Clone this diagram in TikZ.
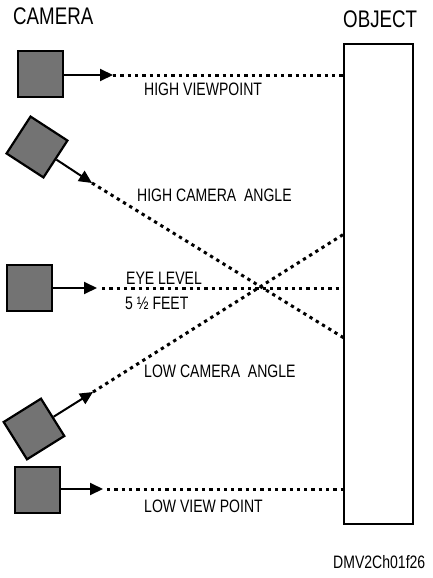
\documentclass[tikz,border=0pt]{standalone}
\usepackage{fontspec}
\setmainfont{Liberation Sans}[FakeStretch=0.78]
\usetikzlibrary{arrows.meta}
\begin{document}
\begin{tikzpicture}[x=1pt,y=-1pt,
  cam/.style={draw=black,line width=2.2pt,fill=black!55,inner sep=0pt,minimum width=45pt,minimum height=46pt},
  camtilt/.style={draw=black,line width=2.2pt,fill=black!55,inner sep=0pt,minimum size=44pt},
  shaft/.style={line width=2pt,-{Triangle[length=13pt,width=12pt]}},
  sight/.style={line width=3pt,dash pattern=on 3.3pt off 4pt},
  big/.style={inner sep=0pt,anchor=west,font=\fontsize{24}{27}\selectfont},
  lbl/.style={inner sep=0pt,anchor=west,font=\fontsize{18}{21}\selectfont}]
\useasboundingbox (0,0) rectangle (433,578);
% title texts
\node[big] (tcam) at (13,16.7) {CAMERA};
\node[big] (tobj) at (343,19) {OBJECT};
% object
\node[draw=black,line width=2pt,minimum width=69pt,minimum height=480pt,inner sep=0pt] (obj) at (378.5,284) {};
% cameras
\node[cam] (c1) at (40.5,74) {};
\node[camtilt,rotate=-33] (c2) at (37,147) {};
\node[cam] (c3) at (29.5,288) {};
\node[camtilt,rotate=32] (c4) at (34,429) {};
\node[cam] (c5) at (37.5,490) {};
% arrow tips
\coordinate (t1) at (113,75);
\coordinate (t2) at (92,183);
\coordinate (t3) at (97,288);
\coordinate (t4) at (93,392);
\coordinate (t5) at (103,489);
% object hit points
\coordinate (h2) at (344,338);
\coordinate (h4) at (344,234);
% arrows
\draw[shaft] (c1.east |- t1) -- (t1);
\draw[shaft] (c2.east) -- (t2);
\draw[shaft] (c3.east |- t3) -- (t3);
\draw[shaft] (c4.east) -- (t4);
\draw[shaft] (c5.east |- t5) -- (t5);
% sight lines
\draw[sight] (t1) -- (t1 -| obj.west);
\draw[sight] (t2) -- (h2);
\draw[sight] ([xshift=5pt]t3) -- (t3 -| obj.west);
\draw[sight] (t4) -- (h4);
\draw[sight] ([xshift=4pt]t5) -- (t5 -| obj.west);
% labels
\node[lbl] (l1) at (144,89.5) {HIGH VIEWPOINT};
\node[lbl] (l2) at (137,195) {HIGH CAMERA~~ANGLE};
\node[lbl] (l3) at (126,278.5) {EYE LEVEL};
\node[lbl] (l3b) at (125,303) {5 ½ FEET};
\node[lbl] (l4) at (144,371.5) {LOW CAMERA~~ANGLE};
\node[lbl] (l5) at (144,506.5) {LOW VIEW POINT};
\node[lbl] (fig) at (333,562.5) {DMV2Ch01f26};
\end{tikzpicture}
\end{document}
